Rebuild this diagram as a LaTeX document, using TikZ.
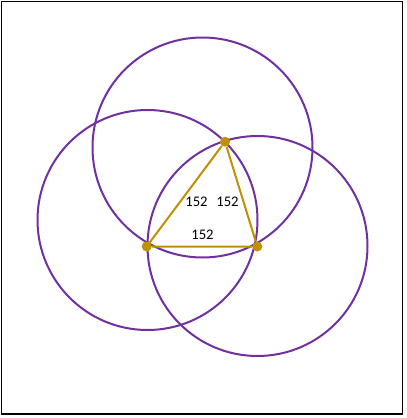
\documentclass[tikz,border=0pt]{standalone}
\usepackage{fontspec}
\setmainfont{Carlito}
\usepackage{xcolor}
\usetikzlibrary{calc}
\definecolor{ungu}{HTML}{7030A0}
\definecolor{emas}{HTML}{BF9000}
\tikzset{
  lingkaran/.style={ungu, line width=1.5pt},
  titik/.style={circle, fill=emas, inner sep=0pt, minimum size=7.5pt},
  angka/.style={font=\fontsize{11}{13}\selectfont, inner sep=0pt}
}
\begin{document}
\begin{tikzpicture}[x=0.75pt,y=-0.75pt]
        %BATAS GAMBAR
       \useasboundingbox (0,0) rectangle (407,418);
       \draw[line width=0.8pt] (1.5,1.5) rectangle (402.5,414);
        %LINGKARAN KIRI
       \draw[lingkaran] (147.5,220) circle (82.5pt);
        %LINGKARAN ATAS
       \draw[lingkaran] (202.5,147.5) circle (82.5pt);
        %LINGKARAN KANAN
       \draw[lingkaran] (257.5,246) circle (82.5pt);
        %TITIK SUDUT
       \node[titik] (A) at (146.7,246.5) {};
       \node[titik] (B) at (257.3,246.5) {};
       \node[titik] (C) at (225,141.7) {};
        %SEGITIGA
       \draw[emas, line width=1.5pt] (A) -- (B) -- (C) -- (A);
        %PANJANG SISI
       \node[angka] (sAC) at (196.5,202) {152};
       \node[angka] (sBC) at (227.5,202) {152};
       \node[angka] (sAB) at (202.5,235) {152};
    \end{tikzpicture}
\end{document}
